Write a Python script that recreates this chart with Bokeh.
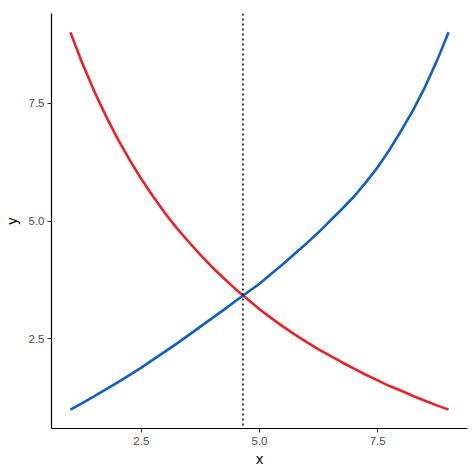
from bokeh.plotting import figure
from bokeh.models import Range1d, FixedTicker, PrintfTickFormatter, Span
from bokeh.embed import file_html
from bokeh.resources import INLINE

# data
x_vals = [1.00, 1.25, 1.50, 1.75, 2.00, 2.25, 2.50, 2.75, 3.00, 3.25, 3.50, 3.75,
          4.00, 4.25, 4.50, 4.75, 5.00, 5.25, 5.50, 5.75, 6.00, 6.25, 6.50, 6.75,
          7.00, 7.25, 7.50, 7.75, 8.00, 8.25, 8.50, 8.75, 9.00]
red_y = [9.00, 8.35, 7.76, 7.23, 6.74, 6.30, 5.89, 5.52, 5.17, 4.85, 4.56, 4.28,
         4.02, 3.78, 3.55, 3.34, 3.13, 2.94, 2.76, 2.59, 2.43, 2.28, 2.14, 2.00,
         1.87, 1.74, 1.62, 1.50, 1.40, 1.29, 1.19, 1.09, 1.00]
blue_y = [1.00, 1.14, 1.28, 1.43, 1.58, 1.73, 1.89, 2.06, 2.23, 2.40, 2.58, 2.76,
          2.94, 3.12, 3.31, 3.49, 3.67, 3.88, 4.09, 4.31, 4.53, 4.76, 5.01, 5.26,
          5.52, 5.82, 6.14, 6.51, 6.92, 7.35, 7.84, 8.39, 9.00]
vline_x = 4.65
x_ticks = [2.5, 5.0, 7.5]
y_ticks = [2.5, 5.0, 7.5]

p = figure(frame_width=416, frame_height=415, output_backend="svg", toolbar_location=None,
           x_range=Range1d(0.6, 9.4), y_range=Range1d(0.6, 9.4),
           min_border_left=42, min_border_right=2, min_border_top=13, min_border_bottom=36)

p.line(x_vals, red_y, line_color="#EA2228", line_width=2.6)
p.line(x_vals, blue_y, line_color="#125DC6", line_width=2.6)
p.add_layout(Span(location=vline_x, dimension="height", line_color="black",
                  line_width=1.5, line_dash="2 3"))

p.xgrid.visible = False
p.ygrid.visible = False
p.outline_line_color = None

for ax, ticks, lab in ((p.xaxis[0], x_ticks, "x"), (p.yaxis[0], y_ticks, "y")):
    ax.ticker = FixedTicker(ticks=ticks)
    ax.formatter = PrintfTickFormatter(format="%.1f")
    ax.minor_tick_line_color = None
    ax.major_tick_in = 0
    ax.major_tick_out = 4
    ax.major_tick_line_color = "#333333"
    ax.axis_line_color = "black"
    ax.axis_line_width = 1.2
    ax.major_label_text_color = "#4D4D4D"
    ax.major_label_text_font = "Liberation Sans"
    ax.major_label_text_font_size = "11.5px"
    ax.axis_label = lab
    ax.axis_label_text_font = "Liberation Sans"
    ax.axis_label_text_font_style = "normal"
    ax.axis_label_text_font_size = "14.5px"
    ax.axis_label_text_color = "black"

p.xaxis[0].major_label_standoff = 4
p.xaxis[0].axis_label_standoff = 3
p.yaxis[0].major_label_standoff = 3
p.yaxis[0].axis_label_standoff = 6

open("out.html", "w").write(file_html(p, INLINE))
